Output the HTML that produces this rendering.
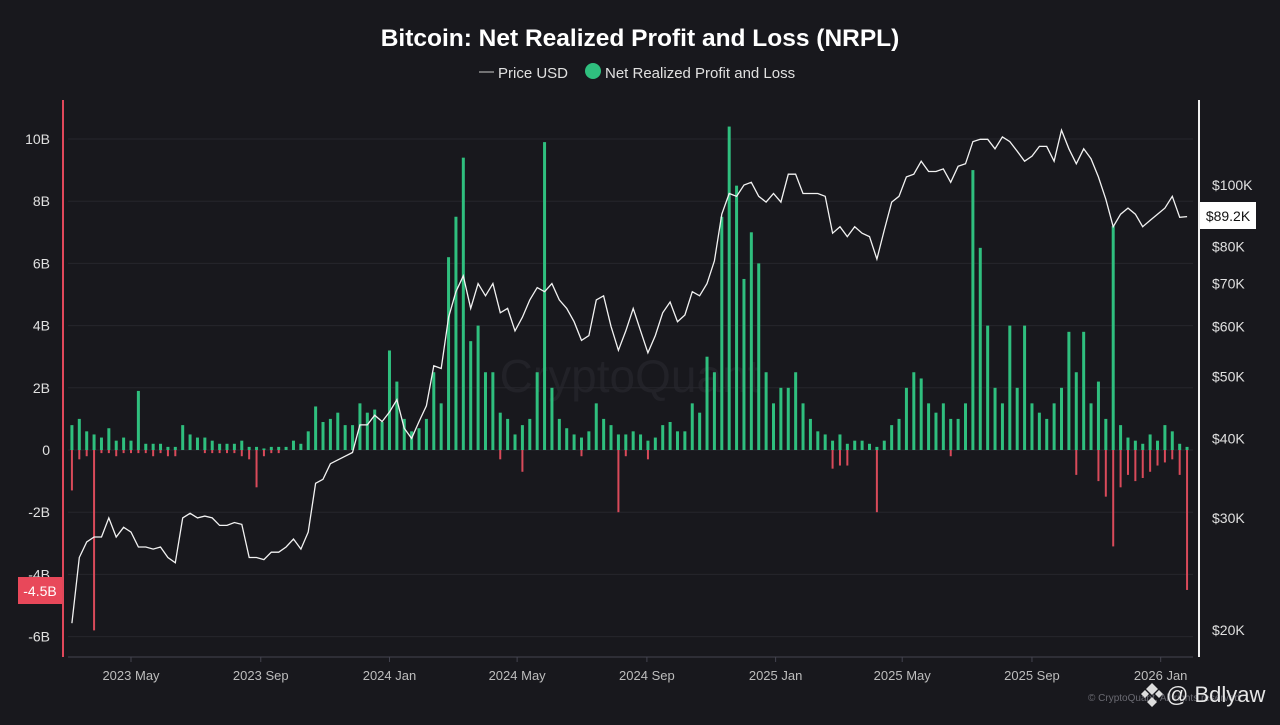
<!DOCTYPE html>
<html><head><meta charset="utf-8"><style>
html,body{margin:0;padding:0;background:#18181d;}
body{width:1280px;height:720px;overflow:hidden;font-family:"Liberation Sans",sans-serif;}
svg text{font-family:"Liberation Sans",sans-serif;}
</style></head><body>
<svg id="chart" width="1280" height="720" viewBox="0 0 1280 720" xmlns="http://www.w3.org/2000/svg">
<rect width="1280" height="720" fill="#18181d"/>
<text x="640" y="46" text-anchor="middle" fill="#ffffff" font-size="24.5" font-weight="bold">Bitcoin: Net Realized Profit and Loss (NRPL)</text>
<g>
<g><line x1="479" y1="72" x2="494" y2="72" stroke="#cccccc" stroke-width="1"/><text x="498" y="78" fill="#e0e0e0" font-size="15">Price USD</text></g>
<g><circle cx="593" cy="71" r="8" fill="#2fbf7e"/><text x="605" y="78" fill="#e0e0e0" font-size="15">Net Realized Profit and Loss</text></g>
</g>
<text x="630" y="392" text-anchor="middle" fill="#222228" font-size="46">CryptoQuant</text>
<g id="grid"></g>
<g id="bars"></g>
<path id="price" fill="none" stroke="#f2f2f2" stroke-width="1.3"/>
<g id="axes"></g>
<rect x="62" y="100" width="2" height="557" fill="#e0475a"/>
<rect x="1198" y="100" width="2" height="557" fill="#f0f0f0"/>
<line x1="68" y1="657" x2="1193" y2="657" stroke="#444450" stroke-width="1"/>
<g><rect x="18" y="577" width="44" height="27" fill="#e8485a"/><text x="40" y="596" text-anchor="middle" fill="#ffffff" font-size="14">-4.5B</text></g>
<g><rect x="1200" y="202" width="56" height="27" fill="#ffffff"/><text x="1228" y="221" text-anchor="middle" fill="#111111" font-size="14">$89.2K</text></g>
<text x="1088" y="701" fill="#6a6a72" font-size="10">© CryptoQuant. All rights reserved</text>
<g><path d="M1152 683 l6 6 -6 6 -6 -6z M1152 697 l5 5 -5 5 -5 -5z M1145 690 l4 4 -4 4 -4 -4z M1159 690 l4 4 -4 4 -4 -4z" fill="#dddddd"/><text x="1166" y="702" fill="#e6e6e6" font-size="22">@ Bdlyaw</text></g>
</svg>
<script>
const leftTicks=[10,8,6,4,2,0,-2,-4,-6];
const leftTickLabels=["10B","8B","6B","4B","2B","0","-2B","-4B","-6B"];
const rightTicks=[100,80,70,60,50,40,30,20];
const rightTickLabels=["$100K","$80K","$70K","$60K","$50K","$40K","$30K","$20K"];
const xTickDates=["2023-05-01","2023-09-01","2024-01-01","2024-05-01","2024-09-01","2025-01-01","2025-05-01","2025-09-01","2026-01-01"];
const xTickLabels=["2023 May","2023 Sep","2024 Jan","2024 May","2024 Sep","2025 Jan","2025 May","2025 Sep","2026 Jan"];
const yearStarts=["2023-03-06","2024-01-01","2025-01-06","2026-01-05"];
const price2023=[20.5,26,27.5,28,28,30,28,29,28.5,27,27,26.8,27,26,25.5,30,30.5,30,30.2,30,29.2,29.2,29.5,29.3,26,26,25.8,26.5,26.5,27,27.8,26.8,28.5,34,34.5,36.5,37,37.5,38,42,42,43.5,42.5];
const price2024=[44,46,41.5,40,42.5,45,52,51.5,62,68,72,64,70,67,70,63,64,59,62,66,69,68,70,66,64,61,57,58,66,67,60,55,59,64,59,54.5,58,63,65.5,61,62.5,68,67,70,76,90,97,96,100,101,96,94,97];
const price2025=[94,104,104,97,97,97,96,84,86,83,86,84,83,76.5,85,94,96,103,104,109,105,105,106,101,107,108,117,118,118,114,119,117,113,109,111,115,115,109,122,114,108,114,110,103,95,86,90,92,90,86,88,90];
const price2026=[92,96,89,89.2];
const pos2023=[0.8,1.0,0.6,0.5,0.4,0.7,0.3,0.4,0.3,1.9,0.2,0.2,0.2,0.1,0.1,0.8,0.5,0.4,0.4,0.3,0.2,0.2,0.2,0.3,0.1,0.1,0.05,0.1,0.1,0.1,0.3,0.2,0.6,1.4,0.9,1.0,1.2,0.8,0.8,1.5,1.2,1.3,0.9];
const neg2023=[-1.3,-0.3,-0.2,-5.8,-0.1,-0.1,-0.2,-0.1,-0.1,-0.1,-0.1,-0.2,-0.1,-0.2,-0.2,0,0,0,-0.1,-0.1,-0.1,-0.1,-0.1,-0.2,-0.3,-1.2,-0.2,-0.1,-0.1,0,0,0,0,0,0,0,0,0,0,0,0,0,0];
const pos2024=[3.2,2.2,1.0,0.6,0.7,1.0,2.5,1.5,6.2,7.5,9.4,3.5,4.0,2.5,2.5,1.2,1.0,0.5,0.8,1.0,2.5,9.9,2.0,1.0,0.7,0.5,0.4,0.6,1.5,1.0,0.8,0.5,0.5,0.6,0.5,0.3,0.4,0.8,0.9,0.6,0.6,1.5,1.2,3.0,2.5,7.5,10.4,8.5,5.5,7.0,6.0,2.5,1.5];
const neg2024=[0,0,0,0,0,0,0,0,0,0,0,0,0,0,0,-0.3,0,0,-0.7,0,0,0,0,0,0,0,-0.2,0,0,0,0,-2.0,-0.2,0,0,-0.3,0,0,0,0,0,0,0,0,0,0,0,0,0,0,0,0,0];
const pos2025=[2.0,2.0,2.5,1.5,1.0,0.6,0.5,0.3,0.5,0.2,0.3,0.3,0.2,0.1,0.3,0.8,1.0,2.0,2.5,2.3,1.5,1.2,1.5,1.0,1.0,1.5,9.0,6.5,4.0,2.0,1.5,4.0,2.0,4.0,1.5,1.2,1.0,1.5,2.0,3.8,2.5,3.8,1.5,2.2,1.0,7.2,0.8,0.4,0.3,0.2,0.5,0.3];
const neg2025=[0,0,0,0,0,0,0,-0.6,-0.5,-0.5,0,0,0,-2.0,0,0,0,0,0,0,0,0,0,-0.2,0,0,0,0,0,0,0,0,0,0,0,0,0,0,0,0,-0.8,0,0,-1.0,-1.5,-3.1,-1.2,-0.8,-1.0,-0.9,-0.7,-0.5];
const pos2026=[0.8,0.6,0.2,0.1];
const neg2026=[-0.4,-0.3,-0.8,-4.5];

const NS="http://www.w3.org/2000/svg";
const DAY=86400000, ORIGIN=Date.parse("2023-05-01"), PXDAY=1.055;
function xScale(d){return 131+((Date.parse(d)-ORIGIN)/DAY)*PXDAY;}
function xFromMs(ms){return 131+((ms-ORIGIN)/DAY)*PXDAY;}
function yLeft(v){return 450-v*31.1;}
function yRight(k){return 630-636.6*Math.log10(k/20);}
function mk(tag,attrs,parent){const e=document.createElementNS(NS,tag);for(const k in attrs)e.setAttribute(k,attrs[k]);parent.appendChild(e);return e;}
const grid=document.getElementById('grid'),axes=document.getElementById('axes'),bars=document.getElementById('bars');
leftTicks.forEach((v,i)=>{
  const y=yLeft(v);
  const g=mk('line',{x1:68,x2:1193,y1:y,y2:y,stroke:'#26262d','stroke-width':1},grid);
  
  
  const t=mk('text',{x:50,y:y+5,'text-anchor':'end',fill:'#e0e0e0','font-size':14},axes);
  t.textContent=leftTickLabels[i];
  
  
});
rightTicks.forEach((v,i)=>{
  const t=mk('text',{x:1212,y:yRight(v)+5,fill:'#e0e0e0','font-size':14},axes);
  t.textContent=rightTickLabels[i];
  
  
});
xTickDates.forEach((d,i)=>{
  const x=xScale(d);
  const tk=mk('line',{x1:x,x2:x,y1:657,y2:662,stroke:'#444450'},axes);
  
  
  const t=mk('text',{x:x,y:680,'text-anchor':'middle',fill:'#bdbdbd','font-size':13},axes);
  t.textContent=xTickLabels[i];
  
  
});
const priceSets=[price2023,price2024,price2025,price2026],posSets=[pos2023,pos2024,pos2025,pos2026],negSets=[neg2023,neg2024,neg2025,neg2026];
let pts=[];
yearStarts.forEach((s,yi)=>{
  const base=Date.parse(s);
  priceSets[yi].forEach((p,i)=>{pts.push([xFromMs(base+i*7*DAY),yRight(p)]);});
  posSets[yi].forEach((v,i)=>{
    const x=xFromMs(base+i*7*DAY);
    if(v>0){const r=mk('rect',{x:x-1.5,y:yLeft(v),width:3,height:yLeft(0)-yLeft(v),fill:'#2fbf7e'},bars);
      
      }
    const n=negSets[yi][i];
    if(n<0){const r=mk('rect',{x:x-1,y:yLeft(0),width:2,height:yLeft(n)-yLeft(0),fill:'#d94a5a'},bars);
      
      }
  });
});
document.getElementById('price').setAttribute('d',pts.map((p,i)=>(i?'L':'M')+p[0].toFixed(1)+' '+p[1].toFixed(1)).join(' '));
</script>
</body></html>
